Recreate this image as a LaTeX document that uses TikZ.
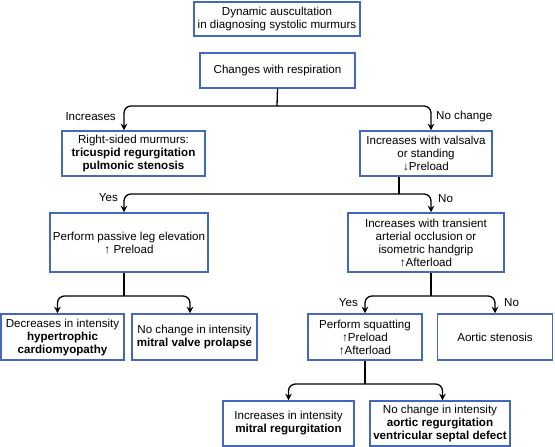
\documentclass[tikz,border=0pt]{standalone}
\usepackage{fontspec}
\setmainfont{Liberation Sans}
\usetikzlibrary{arrows.meta,calc}
\definecolor{boxblue}{RGB}{68,104,190}

\begin{document}
\begin{tikzpicture}[x=1pt,y=-1pt,
    box/.style={draw=boxblue, line width=1.5pt, align=center, inner sep=2pt, font=\fontsize{11.6}{13}\selectfont},
    link/.style={line width=1.3pt, rounded corners=7pt},
    arr/.style={link, -{Stealth[length=6.5pt,width=6.5pt]}},
    lbl/.style={font=\fontsize{11.6}{13}\selectfont, inner sep=0pt}]
    \useasboundingbox (0,0) rectangle (555,447);

    % title and first question
    \node[box, minimum width=166pt, minimum height=34pt] (title) at (277,19) {Dynamic auscultation\\in diagnosing systolic murmurs};
    \node[box, minimum width=155pt, minimum height=35pt] (resp) at (277.5,70.5) {Changes with respiration};

    % respiration
    \node[box, minimum width=143pt, minimum height=45pt] (right) at (133.5,153.5) {Right-sided murmurs:\\\textbf{tricuspid regurgitation}\\\textbf{pulmonic stenosis}};
    \node[box, minimum width=132pt, minimum height=45pt] (valsalva) at (426,153.5) {Increases with valsalva\\or standing\\↓Preload};
    \coordinate (j1) at (277,106);
    \draw[link] (resp.south) -- (j1);
    \draw[arr] (j1) -| ([xshift=-9.5pt]right.north);
    \draw[arr] (j1) -| ([xshift=5pt]valsalva.north);
    \node[lbl, anchor=east] (incr) at (116,117) {Increases};
    \node[lbl, anchor=west] (nochg) at (436,117) {No change};

    % valsalva
    \node[box, minimum width=158pt, minimum height=59pt] (leg) at (129,242.5) {Perform passive leg elevation\\↑ Preload};
    \node[box, minimum width=156pt, minimum height=59pt] (grip) at (426,242.5) {Increases with transient\\arterial occlusion or\\isometric handgrip\\↑Afterload};
    \coordinate (j2) at (399,194);
    \draw[link] ([xshift=-27pt]valsalva.south) -- (j2);
    \draw[arr] (j2) -| ([xshift=-5pt]leg.north);
    \draw[arr] (j2) -| ([xshift=5pt]grip.north);
    \node[lbl, anchor=east] (yes1) at (118,198) {Yes};
    \node[lbl, anchor=west] (no1) at (438,199) {No};

    % leg elevation
    \node[box, minimum width=123pt, minimum height=46pt] (hcm) at (62.5,337) {Decreases in intensity\\\textbf{hypertrophic}\\\textbf{cardiomyopathy}};
    \node[box, minimum width=125pt, minimum height=46pt] (mvp) at (194.5,337) {No change in intensity\\\textbf{mitral valve prolapse}};
    \coordinate (j3) at (124,296);
    \draw[link] ([xshift=-5pt]leg.south) -- (j3);
    \draw[arr] (j3) -| ([xshift=-5pt]hcm.north);
    \draw[arr] (j3) -| ([xshift=-4.5pt]mvp.north);

    % handgrip
    \node[box, minimum width=114pt, minimum height=46pt] (squat) at (365,337) {Perform squatting\\↑Preload\\↑Afterload};
    \node[box, minimum width=115pt, minimum height=46pt] (as) at (495,337) {Aortic stenosis};
    \coordinate (j4) at (431,296);
    \draw[link] ([xshift=5pt]grip.south) -- (j4);
    \draw[arr] (j4) -| (squat.north);
    \draw[arr] (j4) -| (as.north);
    \node[lbl, anchor=east] (yes2) at (358,303) {Yes};
    \node[lbl, anchor=west] (no2) at (504,303) {No};

    % squatting
    \node[box, minimum width=131pt, minimum height=45pt] (mr) at (288.5,423.5) {Increases in intensity\\\textbf{mitral regurgitation}};
    \node[box, minimum width=140pt, minimum height=45pt] (vsd) at (440,423.5) {No change in intensity\\\textbf{aortic regurgitation}\\\textbf{ventricular septal defect}};
    \coordinate (j5) at (365,384);
    \draw[link] (squat.south) -- (j5);
    \draw[arr] (j5) -| (mr.north);
    \draw[arr] (j5) -| ([xshift=2.5pt]vsd.north);
\end{tikzpicture}
\end{document}
